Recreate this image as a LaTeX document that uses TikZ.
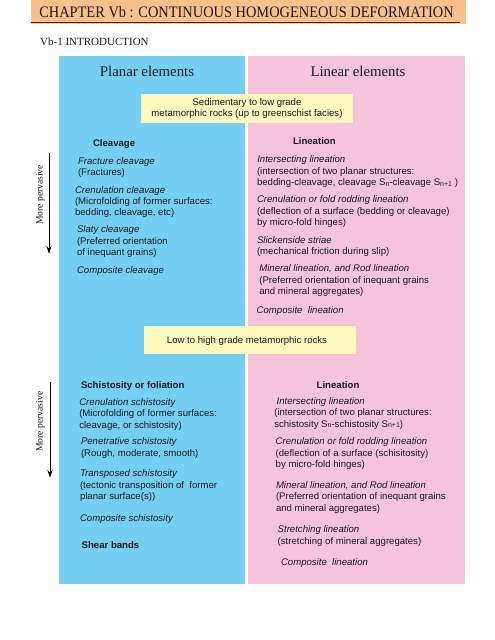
\documentclass[tikz,border=0pt]{standalone}
\usepackage{fontspec}
\setmainfont{Liberation Serif}
\setsansfont{Liberation Sans}
\usetikzlibrary{arrows.meta}
\definecolor{titlebg}{RGB}{249,192,140}
\definecolor{planarbg}{RGB}{116,207,242}
\definecolor{linearbg}{RGB}{246,196,218}
\definecolor{notebg}{RGB}{253,248,190}
\definecolor{ink}{RGB}{25,25,35}
\definecolor{rule}{RGB}{60,40,25}
\newcommand{\sbs}[1]{\raisebox{-0.6pt}{\fontsize{7}{8}\selectfont #1}}
\tikzset{
  txt/.style={inner sep=0pt, outer sep=0pt, anchor=base west, text=ink, font=\sffamily\fontsize{9.6}{11.6}\selectfont},
  itxt/.style={txt, font=\sffamily\itshape\fontsize{9.6}{11.6}\selectfont},
  btxt/.style={txt, font=\sffamily\bfseries\fontsize{9.6}{11.6}\selectfont},
  ctxt/.style={txt, anchor=base},
  header/.style={inner sep=0pt, anchor=base, text=ink, font=\fontsize{14.8}{16}\selectfont},
  sidelabel/.style={inner sep=0pt, rotate=90, text=ink, font=\fontsize{9.6}{11}\selectfont},
  pervarrow/.style={draw=black, line width=0.9pt, -{Stealth[length=8pt,width=5pt]}}
}
\begin{document}
\begin{tikzpicture}[x=1pt,y=-1pt]
\useasboundingbox (0,0) rectangle (495,640);
\fill[white] (0,0) rectangle (495,640);
% title bar
\fill[titlebg] (31,0) rectangle (466,24);
\draw[rule, line width=1pt] (31,22) -- (460,22);
\node[inner sep=0pt, anchor=base, text=ink] (title) at (246.5,17.5)
  {\scalebox{0.9}[1]{\fontsize{16}{18}\selectfont CHAPTER Vb : CONTINUOUS HOMOGENEOUS DEFORMATION}};
\node[inner sep=0pt, anchor=base west, text=ink, font=\fontsize{11}{13}\selectfont] (intro) at (40,45.7) {Vb-1 INTRODUCTION};
% panels
\fill[planarbg] (59,56) rectangle (245,584);
\fill[linearbg] (248,56) rectangle (465,584);
\node[header] (planar) at (147,76.7) {Planar elements};
\node[header] (linear) at (358,76.7) {Linear elements};
% yellow notes
\fill[notebg] (141,94) rectangle (353,123);
\node[ctxt] (n1a) at (247,105.7) {Sedimentary to low grade};
\node[ctxt] (n1b) at (247,116.3) {metamorphic rocks (up to greenschist facies)};
\fill[notebg] (144,326) rectangle (356,354);
\node[ctxt] (n2) at (247,343) {Low to high grade metamorphic rocks};
% arrows
\coordinate (a1s) at (49,153);
\coordinate (a1e) at (49,254);
\draw[pervarrow] (a1s) -- (a1e);
\node[sidelabel] (p1) at (40.5,195) {More pervasive};
\coordinate (a2s) at (50,382);
\coordinate (a2e) at (50,478);
\draw[pervarrow] (a2s) -- (a2e);
\node[sidelabel] (p2) at (40.5,421.7) {More pervasive};
% left block 1
\node[btxt] (c0) at (93,146) {Cleavage};
\node[itxt] (c1) at (78,164) {Fracture cleavage};
\node[txt] (c2) at (78,175.7) {(Fractures)};
\node[itxt] (c3) at (75,193) {Crenulation cleavage};
\node[txt] (c4) at (75,204.7) {(Microfolding of former surfaces:};
\node[txt] (c5) at (75,215.7) {bedding, cleavage, etc)};
\node[itxt] (c6) at (77,232.3) {Slaty cleavage};
\node[txt] (c7) at (77,244) {(Preferred orientation};
\node[txt] (c8) at (77,255.7) {of inequant grains)};
\node[itxt] (c9) at (77,273) {Composite cleavage};
% right block 1
\node[btxt] (r0) at (293,144.7) {Lineation};
\node[itxt] (r1) at (257.3,162.3) {Intersecting lineation};
\node[txt] (r2) at (257,174) {(intersection of two planar structures:};
\node[txt] (r3) at (257,185.7) {bedding-cleavage, cleavage S\sbs{n}-cleavage S\sbs{n+1} )};
\node[itxt] (r4) at (257,202.3) {Crenulation or fold rodding lineation};
\node[txt] (r5) at (257,214) {(deflection of a surface (bedding or cleavage)};
\node[txt] (r6) at (257,225.7) {by micro-fold hinges)};
\node[itxt] (r7) at (257,243) {Slickenside striae};
\node[txt] (r8) at (257,254.7) {(mechanical friction during slip)};
\node[itxt] (r9) at (259.3,271.3) {Mineral lineation, and Rod lineation};
\node[txt] (r10) at (259.3,283) {(Preferred orientation of inequant grains};
\node[txt] (r11) at (259.3,294.7) {and mineral aggregates)};
\node[itxt] (r12) at (256.7,313) {Composite\ \ lineation};
% left block 2
\node[btxt] (s0) at (81,388) {Schistosity or foliation};
\node[itxt] (s1) at (79.3,405.3) {Crenulation schistosity};
\node[txt] (s2) at (79.3,416.3) {(Microfolding of former surfaces:};
\node[txt] (s3) at (79.3,428) {cleavage, or schistosity)};
\node[itxt] (s4) at (81,444.7) {Penetrative schistosity};
\node[txt] (s5) at (81,456.3) {(Rough, moderate, smooth)};
\node[itxt] (s6) at (80,476.3) {Transposed schistosity};
\node[txt] (s7) at (80,488) {(tectonic transposition of\ \ former};
\node[txt] (s8) at (80,499.7) {planar surface(s))};
\node[itxt] (s9) at (80,521.3) {Composite schistosity};
\node[btxt] (s10) at (81.7,548) {Shear bands};
% right block 2
\node[btxt] (t0) at (316.7,388) {Lineation};
\node[itxt] (t1) at (276.7,404) {Intersecting lineation};
\node[txt] (t2) at (274.3,415.7) {(intersection of two planar structures:};
\node[txt] (t3) at (274.3,427.3) {schistosity S\sbs{n}-schistosity S\sbs{n+1})};
\node[itxt] (t4) at (275.7,444.7) {Crenulation or fold rodding lineation};
\node[txt] (t5) at (275.7,456.3) {(deflection of a surface (schisitosity)};
\node[txt] (t6) at (275.7,467.3) {by micro-fold hinges)};
\node[itxt] (t7) at (276,488) {Mineral lineation, and Rod lineation};
\node[txt] (t8) at (276,499.7) {(Preferred orientation of inequant grains};
\node[txt] (t9) at (276,511.3) {and mineral aggregates)};
\node[itxt] (t10) at (277.7,532.3) {Stretching lineation};
\node[txt] (t11) at (277.7,544) {(stretching of mineral aggregates)};
\node[itxt] (t12) at (281,565.3) {Composite\ \ lineation};
\end{tikzpicture}
\end{document}
